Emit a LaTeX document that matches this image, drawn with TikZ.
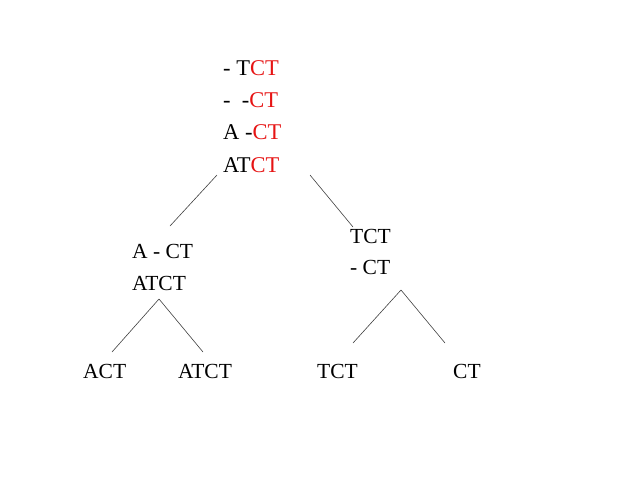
\documentclass[tikz,border=0pt]{standalone}
\usepackage{fontspec}
\setmainfont{Liberation Serif}
\usepackage{tikz}
\usetikzlibrary{calc,positioning}
\definecolor{seqred}{RGB}{230,20,20}

\begin{document}
\begin{tikzpicture}[x=1pt,y=-1pt]

\tikzset{seqnode/.style={font=\fontsize{21.5}{25}\selectfont,anchor=base west,inner sep=0pt},
rootnode/.style={seqnode,font=\fontsize{22.5}{26}\selectfont},
treeline/.style={draw=black!75,line width=0.6pt}}

\useasboundingbox (0,0) rectangle (638,493);

% Root alignment
\node[rootnode] (r1) at (223,75) {- T\textcolor{seqred}{CT}};
\node[rootnode] (r2) at (223,107) {-\ \ -\textcolor{seqred}{CT}};
\node[rootnode] (r3) at (223,139) {A -\textcolor{seqred}{CT}};
\node[rootnode] (r4) at (223,172) {AT\textcolor{seqred}{CT}};

% Inner alignments
\node[seqnode] (l1) at (132,258) {A - CT};
\node[seqnode] (l2) at (132,290) {ATCT};
\node[seqnode] (n1) at (350,243) {TCT};
\node[seqnode] (n2) at (350,274) {- CT};

% Leaf sequences
\node[seqnode] (a1) at (83,378) {ACT};
\node[seqnode] (a2) at (178,378) {ATCT};
\node[seqnode] (a3) at (317,378) {TCT};
\node[seqnode] (a4) at (453,378) {CT};

% Edges
\draw[treeline] ([shift={(-6,3)}]r4.base west) -- ([shift={(38,-32)}]l1.base west); \draw[treeline] ([shift={(87,3)}]r4.base west) -- ([shift={(3,-16)}]n1.base west); \draw[treeline] ([shift={(27,9)}]l2.base west) -- ([shift={(29,-26)}]a1.base west); \draw[treeline] ([shift={(27,9)}]l2.base west) -- ([shift={(25,-26)}]a2.base west); \draw[treeline] ([shift={(51,16)}]n2.base west) -- ([shift={(36,-35)}]a3.base west); \draw[treeline] ([shift={(51,16)}]n2.base west) -- ([shift={(-8,-35)}]a4.base west);

\end{tikzpicture}
\end{document}
